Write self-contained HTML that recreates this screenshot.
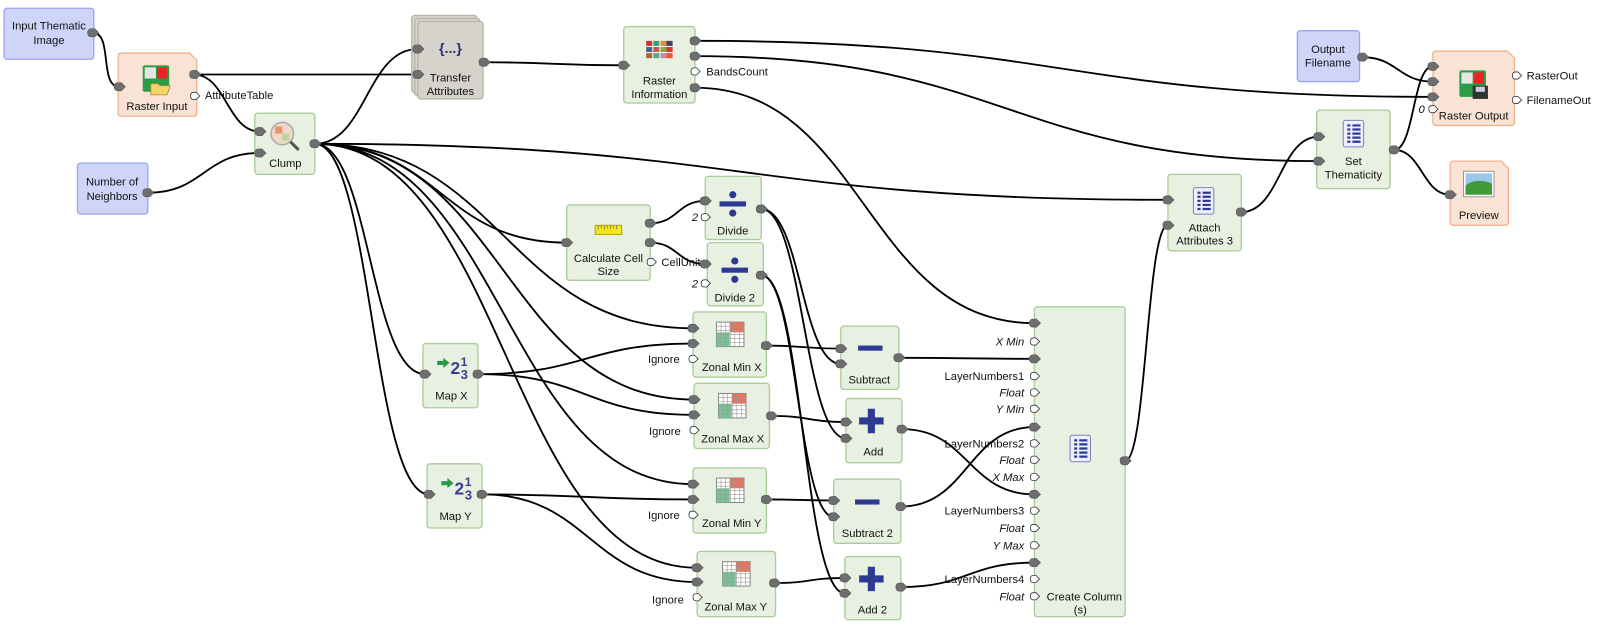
<!DOCTYPE html>
<html><head><meta charset="utf-8"><style>
html,body{margin:0;padding:0;background:#fff;}
svg{display:block;}
text{font-family:"Liberation Sans",sans-serif;font-size:11px;fill:#111;}
.c{text-anchor:middle;}
.r{text-anchor:end;}
.i{font-style:italic;}
.g{fill:#e8f0e2;stroke:#a9cd98;stroke-width:1.3;}
.b{fill:#cfd5f9;stroke:#99a5ee;stroke-width:1.3;}
.o{fill:#f9e3d5;stroke:#efb48e;stroke-width:1.3;}
.t{fill:#d5d3cb;stroke:#b8b4a6;stroke-width:1.3;}
.l path{fill:none;stroke:#000;stroke-width:1.8;}
</style></head><body>
<svg width="1598" height="630" viewBox="0 0 1568 618" xmlns="http://www.w3.org/2000/svg">
<defs>
<g id="p"><path d="M-5,0 Q-5,-4 -1,-4 L2,-4 L6,0 L2,4 L-1,4 Q-5,4 -5,0 Z" fill="#6e6e6e" stroke="#555" stroke-width="0.6"/></g>
<g id="w"><path d="M-4,0 Q-4,-3.5 -1,-3.5 L1.5,-3.5 L5,0 L1.5,3.5 L-1,3.5 Q-4,3.5 -4,0 Z" fill="#fff" stroke="#333" stroke-width="0.8"/></g>
<g id="grid"><rect x="0" y="0" width="27" height="24" fill="#fff" stroke="#888"/><rect x="13" y="0" width="14" height="10" fill="#e8735a"/><rect x="0" y="10" width="13" height="14" fill="#7cc095"/><path d="M4.5 0V24M9 0V24M13.5 0V24M18 0V24M22.5 0V24M0 4H27M0 8H27M0 12H27M0 16H27M0 20H27" stroke="#999" stroke-width="0.6"/></g>
<g id="list"><rect x="0" y="0" width="20" height="26" rx="2" fill="#eef0fb" stroke="#7a80b8"/><path d="M4 5h3M9 5h8M4 9h3M9 9h8M4 13h3M9 13h8M4 17h3M9 17h8M4 21h3M9 21h8" stroke="#2d3a96" stroke-width="2.2"/></g>
<g id="div"><circle cx="0" cy="-9" r="3.5" fill="#2b3a93"/><rect x="-13" y="-2.5" width="26" height="5" fill="#2b3a93"/><circle cx="0" cy="9" r="3.5" fill="#2b3a93"/></g>
<g id="map"><path d="M-16,-6 h6 v-3 l6,5 -6,5 v-3 h-6z" fill="#2a9a4a"/><text x="-3" y="7" style="font-size:17px;fill:#3a3f8f;font-weight:bold">2</text><text x="7" y="-1" style="font-size:12px;fill:#3a3f8f;font-weight:bold">1</text><text x="7" y="12" style="font-size:13px;fill:#3a3f8f;font-weight:bold">3</text></g>
</defs>

<g class="l">
<path d="M91 32 C111 32 97 85 117 85"/>
<path d="M190 73 L410 73"/>
<path d="M190 73 C222 73 223 129 255 129"/>
<path d="M145 189 C200 189 200 150 255 150"/>
<path d="M309 141 C359 141 360 48 410 48"/>
<path d="M475 61 C543 61 544 64 612 64"/>
<path d="M682 40 C1044 40 1044 95 1406 95"/>
<path d="M682 55 C988 55 988 158 1294 158"/>
<path d="M682 86 C848 86 849 317 1015 317"/>
<path d="M1337 56 C1371 56 1372 80 1406 80"/>
<path d="M1368 147 C1388 147 1386 65 1406 65"/>
<path d="M1368 147 C1395 147 1396 191 1423 191"/>
<path d="M1218 208 C1256 208 1256 134 1294 134"/>
<path d="M309 141 C727 141 728 196 1146 196"/>
<path d="M1104 452 C1125 452 1125 221 1146 221"/>
<path d="M309 141 C432 141 433 238 556 238"/>
<path d="M638 219 C665 219 665 197 692 197"/>
<path d="M638 238 C665 238 665 259 692 259"/>
<path d="M309 141 C494 141 495 322 680 322"/>
<path d="M309 141 C495 141 495 392 681 392"/>
<path d="M309 141 C494 141 495 475 680 475"/>
<path d="M309 141 C496 141 497 557 684 557"/>
<path d="M309 141 C363 141 363 367 417 367"/>
<path d="M309 141 C365 141 365 485 421 485"/>
<path d="M469 367 C574 367 575 337 680 337"/>
<path d="M469 367 C575 367 575 407 681 407"/>
<path d="M473 485 C576 485 577 490 680 490"/>
<path d="M473 485 C578 485 579 571 684 571"/>
<path d="M747 205 C786 205 786 357 825 357"/>
<path d="M747 205 C788 205 789 430 830 430"/>
<path d="M747 270 C782 270 783 507 818 507"/>
<path d="M747 270 C788 270 788 582 829 582"/>
<path d="M752 339 C788 339 789 342 825 342"/>
<path d="M757 408 C793 408 794 414 830 414"/>
<path d="M752 490 C785 490 785 491 818 491"/>
<path d="M760 572 C795 572 794 567 829 567"/>
<path d="M882 351 C948 351 949 352 1015 352"/>
<path d="M885 421 C950 421 950 485 1015 485"/>
<path d="M884 497 C949 497 950 419 1015 419"/>
<path d="M884 576 C949 576 950 552 1015 552"/>
</g>

<rect class="b" x="4" y="8" width="88" height="50" rx="3"/>
<text class="c" x="48" y="29">Input Thematic</text><text class="c" x="48" y="43">Image</text>

<path class="o" d="M119 52 H186 L193 59 V111 Q193 114 190 114 H119 Q116 114 116 111 V55 Q116 52 119 52Z"/>
<rect x="140" y="64" width="26" height="26" rx="2" fill="#2a9d47"/><rect x="142" y="66" width="11" height="11" fill="#e6e6e6"/><rect x="154" y="66" width="10" height="11" fill="#e22"/><path d="M148 82 h7 l2 2 h10 l-3 9 h-16z" fill="#f4d36a" stroke="#b08d2a" stroke-width="0.8"/>
<text class="c" x="154" y="108">Raster Input</text>
<text x="201" y="97">AttributeTable</text>

<rect class="b" x="76" y="160" width="69" height="50" rx="3"/>
<text class="c" x="110" y="182">Number of</text><text class="c" x="110" y="196">Neighbors</text>

<rect class="g" x="250" y="111" width="59" height="60" rx="3"/>
<circle cx="277" cy="131" r="11" fill="#f0d8c8" stroke="#aaa" stroke-width="1.5"/><rect x="270" y="124" width="7" height="7" fill="#e8936e"/><rect x="277" y="131" width="7" height="7" fill="#b8d8a0"/><path d="M285 139 L293 147" stroke="#555" stroke-width="3"/>
<text class="c" x="280" y="164">Clump</text>

<rect class="t" x="404" y="15" width="64" height="76" rx="3"/>
<rect class="t" x="407" y="18" width="64" height="76" rx="3"/>
<rect class="t" x="410" y="21" width="64" height="76" rx="3"/>
<text class="c" x="442" y="52" style="font-size:14px;font-weight:bold;fill:#2a2f6e">{...}</text>
<text class="c" x="442" y="80">Transfer</text><text class="c" x="442" y="93">Attributes</text>

<rect class="g" x="612" y="26" width="70" height="75" rx="3"/>
<g transform="translate(634,40)"><rect width="26" height="17" fill="#fff"/><rect x="0" y="0" width="6" height="5" fill="#c33"/><rect x="7" y="0" width="6" height="5" fill="#3a6"/><rect x="14" y="0" width="6" height="5" fill="#e84"/><rect x="20" y="0" width="6" height="5" fill="#446"/><rect x="0" y="6" width="6" height="5" fill="#468"/><rect x="7" y="6" width="6" height="5" fill="#c55"/><rect x="14" y="6" width="6" height="5" fill="#8a4"/><rect x="20" y="6" width="6" height="5" fill="#d33"/><rect x="0" y="12" width="6" height="5" fill="#a63"/><rect x="7" y="12" width="6" height="5" fill="#5a8"/><rect x="14" y="12" width="6" height="5" fill="#c8a"/><rect x="20" y="12" width="6" height="5" fill="#e53"/></g>
<text class="c" x="647" y="83">Raster</text><text class="c" x="647" y="96">Information</text>
<text x="693" y="74">BandsCount</text>

<rect class="g" x="556" y="201" width="82" height="74" rx="3"/>
<rect x="584" y="221" width="26" height="9" fill="#f5e61a" stroke="#b8a800"/><path d="M587 221v4M590 221v3M593 221v4M596 221v3M599 221v4M602 221v3M605 221v4" stroke="#776" stroke-width="0.8"/>
<text class="c" x="597" y="257">Calculate Cell</text><text class="c" x="597" y="270">Size</text>
<text x="649" y="261">CellUnit</text>

<rect class="g" x="692" y="173" width="55" height="62" rx="3"/>
<use href="#div" x="719" y="200"/><text class="c" x="719" y="230">Divide</text>
<text class="r i" x="685" y="217">2</text>
<rect class="g" x="694" y="238" width="55" height="62" rx="3"/>
<use href="#div" x="721" y="265"/><text class="c" x="721" y="296">Divide 2</text>
<text class="r i" x="685" y="282">2</text>

<rect class="g" x="680" y="306" width="72" height="64" rx="3"/>
<use href="#grid" x="703" y="316"/><text class="c" x="718" y="364">Zonal Min X</text><text class="r" x="667" y="356">Ignore</text>
<rect class="g" x="681" y="376" width="74" height="64" rx="3"/>
<use href="#grid" x="705" y="386"/><text class="c" x="719" y="434">Zonal Max X</text><text class="r" x="668" y="427">Ignore</text>
<rect class="g" x="680" y="459" width="72" height="64" rx="3"/>
<use href="#grid" x="703" y="469"/><text class="c" x="718" y="517">Zonal Min Y</text><text class="r" x="667" y="509">Ignore</text>
<rect class="g" x="684" y="541" width="77" height="64" rx="3"/>
<use href="#grid" x="709" y="551"/><text class="c" x="722" y="599">Zonal Max Y</text><text class="r" x="671" y="592">Ignore</text>

<rect class="g" x="415" y="337" width="54" height="63" rx="3"/>
<use href="#map" x="445" y="360"/><text class="c" x="443" y="392">Map X</text>
<rect class="g" x="419" y="455" width="54" height="63" rx="3"/>
<use href="#map" x="449" y="478"/><text class="c" x="447" y="510">Map Y</text>

<rect class="g" x="825" y="320" width="57" height="62" rx="3"/>
<rect x="842" y="339" width="24" height="5" fill="#2b3a93"/><text class="c" x="853" y="376">Subtract</text>
<rect class="g" x="830" y="391" width="55" height="63" rx="3"/>
<path d="M855 401v24M843 413h24" stroke="#2b3a93" stroke-width="7"/><text class="c" x="857" y="447">Add</text>
<rect class="g" x="818" y="470" width="66" height="63" rx="3"/>
<rect x="839" y="490" width="24" height="5" fill="#2b3a93"/><text class="c" x="851" y="527">Subtract 2</text>
<rect class="g" x="829" y="546" width="55" height="62" rx="3"/>
<path d="M855 556v24M843 568h24" stroke="#2b3a93" stroke-width="7"/><text class="c" x="856" y="602">Add 2</text>

<rect class="g" x="1015" y="301" width="89" height="304" rx="3"/>
<use href="#list" x="1050" y="427"/>
<text class="c" x="1064" y="589">Create Column</text><text class="c" x="1060" y="602">(s)</text>
<text class="r i" x="1005" y="339">X Min</text>
<text class="r" x="1005" y="373">LayerNumbers1</text>
<text class="r i" x="1005" y="389">Float</text>
<text class="r i" x="1005" y="405">Y Min</text>
<text class="r" x="1005" y="439">LayerNumbers2</text>
<text class="r i" x="1005" y="455">Float</text>
<text class="r i" x="1005" y="472">X Max</text>
<text class="r" x="1005" y="505">LayerNumbers3</text>
<text class="r i" x="1005" y="522">Float</text>
<text class="r i" x="1005" y="539">Y Max</text>
<text class="r" x="1005" y="572">LayerNumbers4</text>
<text class="r i" x="1005" y="589">Float</text>

<rect class="g" x="1146" y="171" width="72" height="75" rx="3"/>
<use href="#list" x="1171" y="184"/><text class="c" x="1182" y="227">Attach</text><text class="c" x="1182" y="240">Attributes 3</text>

<rect class="g" x="1292" y="108" width="72" height="77" rx="3"/>
<use href="#list" x="1318" y="118"/><text class="c" x="1328" y="162">Set</text><text class="c" x="1328" y="175">Thematicity</text>

<rect class="b" x="1273" y="30" width="61" height="50" rx="3"/>
<text class="c" x="1303" y="52">Output</text><text class="c" x="1303" y="65">Filename</text>

<path class="o" d="M1409 50 H1479 L1486 57 V120 Q1486 123 1483 123 H1409 Q1406 123 1406 120 V53 Q1406 50 1409 50Z"/>
<rect x="1432" y="69" width="26" height="26" rx="2" fill="#2a9d47"/><rect x="1434" y="71" width="11" height="11" fill="#e6e6e6"/><rect x="1446" y="71" width="10" height="11" fill="#e22"/><rect x="1445" y="84" width="15" height="13" fill="#333"/><rect x="1448" y="85" width="9" height="5" fill="#ccd"/>
<text class="c" x="1446" y="117">Raster Output</text>
<text class="r i" x="1398" y="111">0</text>
<text x="1498" y="78">RasterOut</text><text x="1498" y="102">FilenameOut</text>

<path class="o" d="M1426 158 H1473 L1480 165 V218 Q1480 221 1477 221 H1426 Q1423 221 1423 218 V161 Q1423 158 1426 158Z"/>
<rect x="1436" y="168" width="30" height="25" fill="#fff" stroke="#999"/><rect x="1438" y="170" width="26" height="12" fill="#9cc7ea"/><path d="M1438 182 Q1448 174 1464 180 V191 H1438Z" fill="#3f9a3a"/>
<text class="c" x="1451" y="215">Preview</text>

<use href="#p" x="91" y="32"/>
<use href="#p" x="117" y="85"/><use href="#p" x="191" y="73"/><use href="#w" x="191" y="94"/>
<use href="#p" x="145" y="189"/>
<use href="#p" x="255" y="129"/><use href="#p" x="255" y="150"/><use href="#p" x="309" y="141"/>
<use href="#p" x="410" y="48"/><use href="#p" x="410" y="73"/><use href="#p" x="475" y="61"/>
<use href="#p" x="612" y="64"/><use href="#p" x="682" y="40"/><use href="#p" x="682" y="55"/><use href="#w" x="682" y="70"/><use href="#p" x="682" y="86"/>
<use href="#p" x="556" y="238"/><use href="#p" x="638" y="219"/><use href="#p" x="638" y="238"/><use href="#w" x="639" y="257"/>
<use href="#p" x="692" y="197"/><use href="#w" x="692" y="213"/><use href="#p" x="747" y="205"/>
<use href="#p" x="692" y="259"/><use href="#w" x="692" y="278"/><use href="#p" x="747" y="270"/>
<use href="#p" x="680" y="322"/><use href="#p" x="680" y="337"/><use href="#w" x="680" y="352"/><use href="#p" x="752" y="339"/>
<use href="#p" x="681" y="392"/><use href="#p" x="681" y="407"/><use href="#w" x="681" y="422"/><use href="#p" x="757" y="408"/>
<use href="#p" x="680" y="475"/><use href="#p" x="680" y="490"/><use href="#w" x="680" y="505"/><use href="#p" x="752" y="490"/>
<use href="#p" x="684" y="557"/><use href="#p" x="684" y="571"/><use href="#w" x="684" y="586"/><use href="#p" x="760" y="572"/>
<use href="#p" x="417" y="367"/><use href="#p" x="469" y="367"/>
<use href="#p" x="421" y="485"/><use href="#p" x="473" y="485"/>
<use href="#p" x="825" y="342"/><use href="#p" x="825" y="357"/><use href="#p" x="882" y="351"/>
<use href="#p" x="830" y="414"/><use href="#p" x="830" y="430"/><use href="#p" x="885" y="421"/>
<use href="#p" x="818" y="491"/><use href="#p" x="818" y="507"/><use href="#p" x="884" y="497"/>
<use href="#p" x="829" y="567"/><use href="#p" x="829" y="582"/><use href="#p" x="884" y="576"/>
<use href="#p" x="1015" y="317"/><use href="#w" x="1015" y="335"/><use href="#p" x="1015" y="352"/><use href="#w" x="1015" y="369"/><use href="#w" x="1015" y="385"/><use href="#w" x="1015" y="401"/><use href="#p" x="1015" y="419"/><use href="#w" x="1015" y="435"/><use href="#w" x="1015" y="451"/><use href="#w" x="1015" y="468"/><use href="#p" x="1015" y="485"/><use href="#w" x="1015" y="501"/><use href="#w" x="1015" y="518"/><use href="#w" x="1015" y="535"/><use href="#p" x="1015" y="552"/><use href="#w" x="1015" y="568"/><use href="#w" x="1015" y="585"/>
<use href="#p" x="1104" y="452"/>
<use href="#p" x="1146" y="196"/><use href="#p" x="1146" y="221"/><use href="#p" x="1218" y="208"/>
<use href="#p" x="1294" y="134"/><use href="#p" x="1294" y="158"/><use href="#p" x="1368" y="147"/>
<use href="#p" x="1337" y="56"/>
<use href="#p" x="1406" y="65"/><use href="#p" x="1406" y="80"/><use href="#p" x="1406" y="95"/><use href="#w" x="1406" y="107"/>
<use href="#w" x="1488" y="74"/><use href="#w" x="1488" y="98"/>
<use href="#p" x="1423" y="191"/>
</svg>
</body></html>
